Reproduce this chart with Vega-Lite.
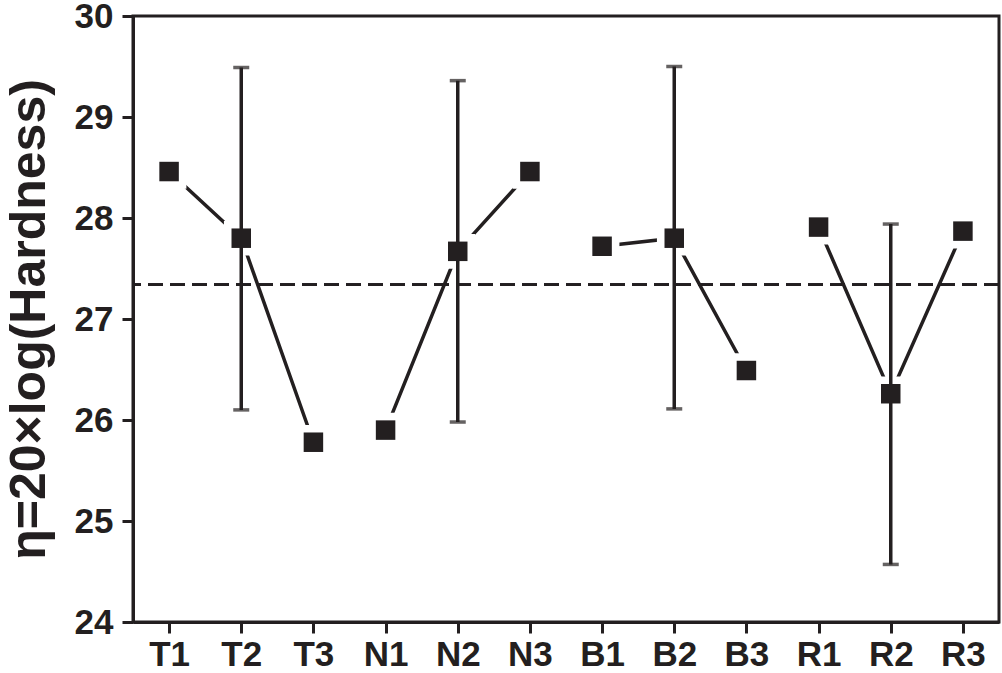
{
  "$schema": "https://vega.github.io/schema/vega-lite/v6.json",
  "width": 866,
  "height": 606,
  "autosize": {"type": "none"},
  "padding": {"left": 133, "top": 16, "right": 3, "bottom": 51},
  "background": "white",
  "config": {
    "font": "Liberation Sans",
    "view": {"stroke": "#231f20", "strokeWidth": 3},
    "axis": {"grid": false, "domainColor": "#231f20", "domainWidth": 3, "tickColor": "#231f20", "tickWidth": 3, "tickSize": 11, "labelColor": "#231f20", "labelFont": "Liberation Sans", "labelFontWeight": "bold", "labelFontSize": 35, "titleColor": "#231f20", "titleFont": "Liberation Sans", "titleFontWeight": "bold"}
  },
  "data": {
    "values": [
      {"cat": "T1", "grp": "T", "val": 28.46, "lo": null, "hi": null},
      {"cat": "T2", "grp": "T", "val": 27.80, "lo": 26.10, "hi": 29.49},
      {"cat": "T3", "grp": "T", "val": 25.78, "lo": null, "hi": null},
      {"cat": "N1", "grp": "N", "val": 25.90, "lo": null, "hi": null},
      {"cat": "N2", "grp": "N", "val": 27.67, "lo": 25.98, "hi": 29.36},
      {"cat": "N3", "grp": "N", "val": 28.46, "lo": null, "hi": null},
      {"cat": "B1", "grp": "B", "val": 27.72, "lo": null, "hi": null},
      {"cat": "B2", "grp": "B", "val": 27.80, "lo": 26.11, "hi": 29.50},
      {"cat": "B3", "grp": "B", "val": 26.49, "lo": null, "hi": null},
      {"cat": "R1", "grp": "R", "val": 27.91, "lo": null, "hi": null},
      {"cat": "R2", "grp": "R", "val": 26.26, "lo": 24.57, "hi": 27.94},
      {"cat": "R3", "grp": "R", "val": 27.87, "lo": null, "hi": null}
    ]
  },
  "encoding": {
    "x": {
      "field": "cat", "type": "nominal",
      "sort": ["T1","T2","T3","N1","N2","N3","B1","B2","B3","R1","R2","R3"],
      "scale": {"type": "point", "padding": 0.5},
      "axis": {"title": null, "labelAngle": 0, "labelPadding": 4}
    }
  },
  "layer": [
    {
      "mark": {"type": "rule", "color": "#231f20", "strokeWidth": 2, "strokeDash": [15, 7]},
      "encoding": {"x": null, "y": {"datum": 27.34}}
    },
    {
      "mark": {"type": "line", "color": "#231f20", "strokeWidth": 3.5},
      "encoding": {
        "y": {"field": "val", "type": "quantitative", "scale": {"domain": [24, 30], "zero": false, "nice": false},
          "axis": {"values": [24,25,26,27,28,29,30], "format": "d", "title": "η=20×log(Hardness)", "titleFontSize": 50, "titlePadding": 20, "labelPadding": 9}},
        "detail": {"field": "grp"}
      }
    },
    {
      "mark": {"type": "point", "shape": "square", "filled": true, "color": "white", "size": 1200, "opacity": 1},
      "encoding": {"y": {"field": "val", "type": "quantitative"}}
    },
    {
      "transform": [{"filter": "datum.lo != null"}],
      "mark": {"type": "rule", "color": "#231f20", "strokeWidth": 3.5},
      "encoding": {"y": {"field": "lo", "type": "quantitative"}, "y2": {"field": "hi"}}
    },
    {
      "transform": [{"filter": "datum.lo != null"}],
      "mark": {"type": "tick", "color": "#231f20", "thickness": 3.5, "size": 16, "orient": "horizontal"},
      "encoding": {"y": {"field": "lo", "type": "quantitative"}}
    },
    {
      "transform": [{"filter": "datum.lo != null"}],
      "mark": {"type": "tick", "color": "#231f20", "thickness": 3.5, "size": 16, "orient": "horizontal"},
      "encoding": {"y": {"field": "hi", "type": "quantitative"}}
    },
    {
      "mark": {"type": "point", "shape": "square", "filled": true, "color": "#231f20", "size": 380, "opacity": 1},
      "encoding": {"y": {"field": "val", "type": "quantitative"}}
    }
  ]
}
